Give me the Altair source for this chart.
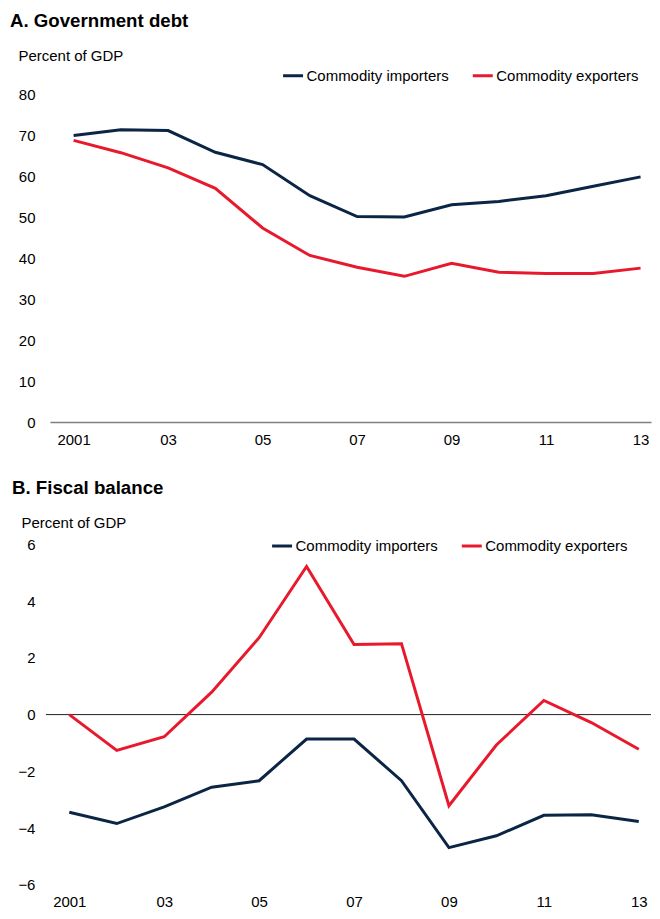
import altair as alt
import pandas as pd

FONT = "Liberation Sans"

years = list(range(2001, 2014))
series = ["Commodity importers", "Commodity exporters"]
colors = ["#0b2545", "#e8192c"]

debt_importers = [70.0, 71.4, 71.2, 65.9, 62.9, 55.3, 50.2, 50.1, 53.1, 53.9, 55.3, 57.6, 59.9]
debt_exporters = [68.8, 65.8, 62.1, 57.1, 47.4, 40.7, 37.8, 35.6, 38.8, 36.6, 36.3, 36.3, 37.6]
bal_importers = [-3.44, -3.84, -3.25, -2.56, -2.33, -0.86, -0.86, -2.33, -4.69, -4.27, -3.55, -3.53, -3.77]
bal_exporters = [0.0, -1.26, -0.78, 0.79, 2.71, 5.22, 2.47, 2.50, -3.21, -1.07, 0.50, -0.28, -1.22]

x_ticks = [2001, 2003, 2005, 2007, 2009, 2011, 2013]
debt_ticks = list(range(0, 81, 10))
bal_ticks = list(range(-6, 7, 2))


def long_df(a, b):
    return pd.DataFrame({
        "year": years * 2,
        "value": a + b,
        "series": [series[0]] * len(years) + [series[1]] * len(years),
    })


debt_df = long_df(debt_importers, debt_exporters)
bal_df = long_df(bal_importers, bal_exporters)
zero_df = pd.DataFrame({"value": [0]})

label_expr = "datum.value == 2001 ? '2001' : substring(toString(datum.value), 2, 4)"

W = 602


def color_enc(lx, ly):
    return alt.Color(
        "series:N",
        scale=alt.Scale(domain=series, range=colors),
        legend=alt.Legend(
            orient="none", legendX=lx, legendY=ly, direction="horizontal",
            title=None, symbolType="stroke", symbolSize=400, symbolStrokeWidth=3,
            labelFontSize=15, labelFont=FONT, labelColor="black", labelOffset=2,
            columnPadding=17, labelLimit=400,
        ),
    )


def y_axis(ticks, tx, ty):
    return alt.Axis(
        values=ticks, title="Percent of GDP", titleAngle=0, titleAlign="left",
        titleBaseline="middle", titleX=tx, titleY=ty, titleFont=FONT,
        titleFontSize=15, titleFontWeight="normal", titleColor="black",
        grid=False, ticks=False, domain=False, labelPadding=15,
        labelFontSize=15, labelFont=FONT, labelColor="black",
    )


def x_axis(domain, pad):
    return alt.Axis(
        values=x_ticks, labelExpr=label_expr, title=None, grid=False, ticks=False,
        domain=domain, domainColor="#808080", domainWidth=1.5, labelPadding=pad,
        labelFontSize=15, labelFont=FONT, labelColor="black", labelFlush=False,
        labelOverlap=False,
    )


chart_a = alt.Chart(debt_df).mark_line(strokeWidth=3).encode(
    x=alt.X("year:Q", scale=alt.Scale(domain=[2000.499, 2013.221], nice=False, zero=False),
            axis=x_axis(True, 10)),
    y=alt.Y("value:Q", scale=alt.Scale(domain=[0, 80], nice=False),
            axis=y_axis(debt_ticks, -32, -39.4)),
    color=color_enc(232, -30.6),
).properties(
    width=W, height=328,
    title=alt.TitleParams("A. Government debt", anchor="start", frame="group", dx=-40,
                          fontSize=18.7, fontWeight="bold", font=FONT, color="black",
                          offset=18),
)

xb = alt.X("year:Q", scale=alt.Scale(domain=[2000.592, 2013.258], nice=False, zero=False),
           axis=x_axis(False, 9.3))
yb = alt.Y("value:Q", scale=alt.Scale(domain=[-6, 6], nice=False),
           axis=y_axis(bal_ticks, -29, -21.7))

zero_rule = alt.Chart(zero_df).mark_rule(color="#222222", strokeWidth=1).encode(
    y=alt.Y("value:Q", scale=alt.Scale(domain=[-6, 6], nice=False)),
    x=alt.value(-4), x2=alt.value(W),
)
lines_b = alt.Chart(bal_df).mark_line(strokeWidth=3).encode(
    x=xb, y=yb, color=color_enc(221, -10.1),
)
chart_b = alt.layer(zero_rule, lines_b).properties(
    width=W, height=341,
    title=alt.TitleParams("B. Fiscal balance", anchor="start", frame="group", dx=-38,
                          fontSize=18.7, fontWeight="bold", font=FONT, color="black",
                          offset=18.4),
)

chart = alt.vconcat(chart_a, chart_b, spacing=31.5).resolve_scale(
    color="independent"
).resolve_legend(color="independent").properties(
    padding={"top": 2, "left": 2, "right": 0, "bottom": 0}
).configure_view(stroke=None)

chart.save("out.html", embed_options={"renderer": "svg", "actions": False})
